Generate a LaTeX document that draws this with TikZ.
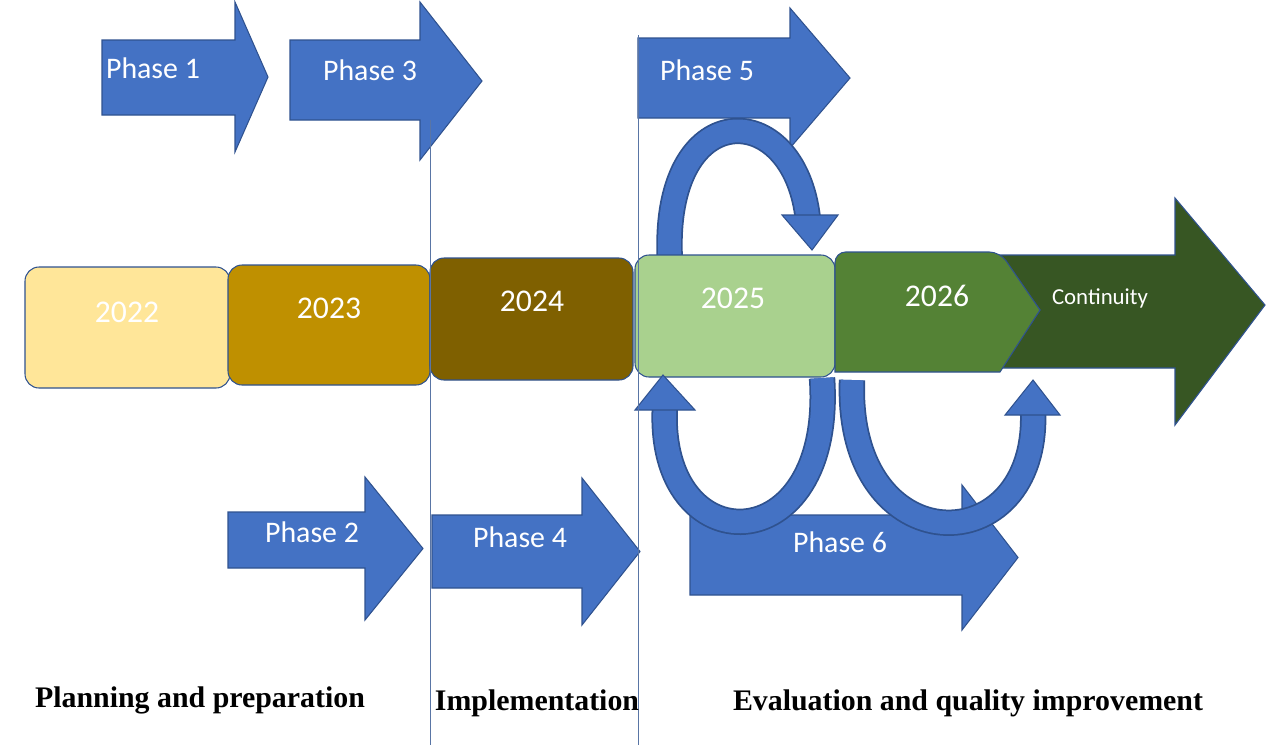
\documentclass[tikz,border=0pt]{standalone}
\usepackage{fontspec}
\setmainfont{Liberation Serif}
\newfontfamily\carlitofont{Carlito}
\definecolor{blu}{HTML}{4472C4}
\definecolor{bluo}{HTML}{2F528F}
\definecolor{yA}{HTML}{FFE699}
\definecolor{yB}{HTML}{BF9000}
\definecolor{yC}{HTML}{7F6000}
\definecolor{gA}{HTML}{A9D18E}
\definecolor{gB}{HTML}{548235}
\definecolor{gC}{HTML}{375623}
\begin{document}
\begin{tikzpicture}[x=0.02cm,y=-0.02cm,
 barr/.style={fill=blu,draw=bluo,line width=0.6pt,line join=miter},
 plab/.style={text=white,font=\carlitofont\fontsize{17}{19}\selectfont},
 ylab/.style={text=white,font=\carlitofont\fontsize{18}{20}\selectfont},
 yrbox/.style={draw=bluo,line width=0.6pt,rounded corners=8pt},
 blab/.style={font=\bfseries\fontsize{17}{20}\selectfont},
 vline/.style={draw=bluo!80,line width=0.5pt}]
\useasboundingbox (0,0) rectangle (1280,745);
\newcommand{\barrow}[8]{% x1 ytop ybot xh htop hbot xtip name
 \draw[barr] (#1,#2) -- (#4,#2) -- (#4,#5) -- (#7,{(#5+#6)/2}) -- (#4,#6) -- (#4,#3) -- (#1,#3) -- cycle;
 \coordinate (#8) at (#1,#2);}
% vertical lines
\coordinate (v1t) at (430,120); \coordinate (v1b) at (430,745);
\coordinate (v2t) at (638,35); \coordinate (v2b) at (638,745);
% phase arrows
\barrow{102}{40}{115}{235}{2}{152}{268}{p1}
\barrow{290}{40}{120}{420}{2}{160}{482}{p3}
\barrow{638}{38}{118}{790}{8}{148}{850}{p5}
\barrow{228}{512}{568}{365}{477}{620}{423}{p2}
\barrow{432}{515}{588}{582}{478}{625}{640}{p4}
\barrow{690}{515}{595}{962}{485}{630}{1018}{p6}
\node[plab] (l1) at (153,68) {Phase 1};
\node[plab] (l3) at (370,70) {Phase 3};
\node[plab] (l5) at (707,70) {Phase 5};
\node[plab] (l2) at (312,532) {Phase 2};
\node[plab] (l4) at (520,537) {Phase 4};
\node[plab] (l6) at (840,542) {Phase 6};
% top loop
\draw[bluo,line width=15pt] (670,262) .. controls (660,95) and (795,95) .. (808,220);
\draw[blu,line width=13pt] (670,262) .. controls (660,95) and (795,95) .. (808,220);
\draw[barr] (782,215) -- (838,215) -- (812,250) -- cycle;
% continuity arrow
\draw[fill=gC,draw=bluo,line width=0.6pt] (1000,255) -- (1175,255) -- (1175,198) -- (1265,305) -- (1175,425) -- (1175,368) -- (1000,368) -- (1040,310) -- cycle;
% year boxes
\draw[yrbox,fill=yA] (25,267) rectangle (230,388);
\draw[yrbox,fill=yB] (228,265) rectangle (430,385);
\draw[yrbox,fill=yC] (430,258) rectangle (633,380);
\draw[yrbox,fill=gA] (635,255) rectangle (835,377);
\draw[draw=bluo,line width=0.6pt,fill=gB,rounded corners=6pt] (835,372) -- (835,252) -- (1000,252) [sharp corners]-- (1040,310) -- (1000,372) -- cycle;
\node[ylab] (y22) at (127,312) {2022};
\node[ylab] (y23) at (329,308) {2023};
\node[ylab] (y24) at (532,301) {2024};
\node[ylab] (y25) at (733,298) {2025};
\node[ylab] (y26) at (937,296) {2026};
\node[text=white,font=\carlitofont\fontsize{13}{15}\selectfont] (cont) at (1100,298) {Continuity};
% bottom loops
\draw[bluo,line width=15pt] (822,378) .. controls (835,565) and (655,565) .. (665,405);
\draw[blu,line width=13pt] (822,378) .. controls (835,565) and (655,565) .. (665,405);
\draw[barr] (635,410) -- (695,410) -- (663,375) -- cycle;
\draw[bluo,line width=15pt] (852,380) .. controls (845,565) and (1040,565) .. (1033,410);
\draw[blu,line width=13pt] (852,380) .. controls (845,565) and (1040,565) .. (1033,410);
\draw[barr] (1005,415) -- (1060,415) -- (1033,380) -- cycle;
% lines
\draw[vline] (v1t) -- (v1b);
\draw[vline] (v2t) -- (v2b);
% bottom labels
\node[blab] (b1) at (200,700) {Planning and preparation};
\node[blab] (b2) at (537,703) {Implementation};
\node[blab] (b3) at (968,703) {Evaluation and quality improvement};
\end{tikzpicture}
\end{document}
